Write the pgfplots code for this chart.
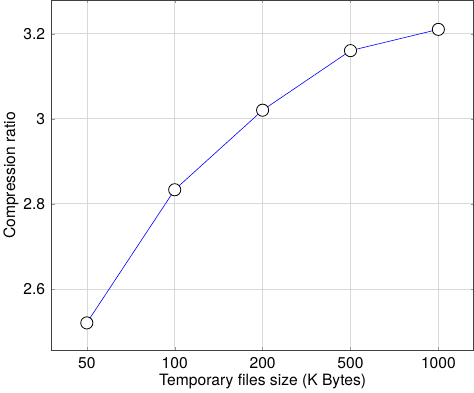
\documentclass[border=0pt]{standalone}
\usepackage{fontspec}
\setmainfont{TeX Gyre Heros}
\usepackage{pgfplots}
\pgfplotsset{compat=1.18}
\begin{document}
\begin{tikzpicture}
\begin{axis}[
  scale only axis,
  width=417bp, height=346bp,
  xmin=-0.4, xmax=4.4,
  ymin=2.455, ymax=3.278,
  xtick={0,1,2,3,4},
  xticklabels={50,100,200,500,1000},
  ytick={2.6,2.8,3,3.2},
  yticklabels={2.6,2.8,3,3.2},
  grid=major,
  grid style={black!15, line width=0.6pt},
  axis line style={black!75, line width=0.9pt},
  tick style={black!40},
  major tick length=3bp,
  tick align=inside,
  ticklabel style={font=\fontsize{15.5}{18}\selectfont},
  label style={font=\fontsize{15.5}{18}\selectfont},
  xticklabel style={yshift=-3bp},
  yticklabel style={xshift=-3bp},
  xlabel={Temporary files size (K Bytes)},
  ylabel={Compression ratio},
  xlabel style={yshift=1bp},
  ylabel style={yshift=-2bp},
  /pgf/number format/assume math mode=true,
]
\addplot[blue, line width=0.6pt, mark=*, mark size=6bp,
  mark options={fill=white, draw=black, line width=0.8pt}]
  coordinates {(0,2.52) (1,2.833) (2,3.02) (3,3.16) (4,3.21)};
\end{axis}
\end{tikzpicture}
\end{document}
